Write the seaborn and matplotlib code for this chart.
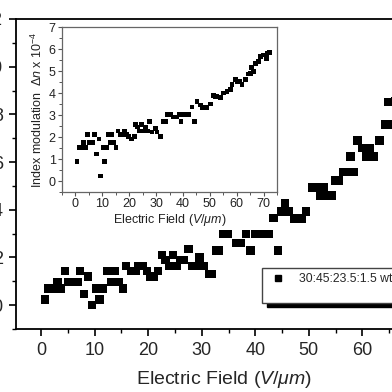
import matplotlib
matplotlib.use("Agg")
import matplotlib.pyplot as plt
import seaborn as sns
import pandas as pd
from matplotlib.lines import Line2D
from matplotlib.ticker import MultipleLocator

# ── Datos ─────────────────────────────────────────────────────────────────
campo = [0.75, 1.4, 2.3, 3.05, 3.7, 4.4, 5.1, 6.0, 6.8, 7.3, 8.0, 8.7, 9.5,
         10.2, 10.9, 11.6, 12.4, 13.0, 13.8, 14.45, 15.3, 15.9, 16.8, 17.6,
         18.2, 19.0, 19.75, 20.4, 21.1, 21.8, 22.6, 23.2, 23.9, 24.6, 25.4,
         26.0, 26.7, 27.5, 28.2, 28.9, 29.6, 30.3, 31.3, 31.9, 32.6, 33.2,
         34.0, 34.9, 36.4, 37.3, 38.3, 39.1, 40.0, 40.9, 41.8, 42.6, 43.4,
         44.2, 44.9, 45.6, 46.2, 47.2, 48.0, 48.6, 49.5, 50.6, 51.5, 52.1,
         52.8, 53.6, 54.2, 55.0, 55.6, 56.5, 57.4, 57.8, 58.4, 59.1, 59.9,
         60.7, 61.4, 62.1, 63.2, 64.3, 64.9, 65.4, 66.2]
modulacion = [0.24, 0.7, 0.7, 0.98, 0.7, 1.43, 0.98, 0.98, 0.98, 1.43, 0.46,
              1.2, 0.0, 0.7, 0.24, 0.7, 1.43, 0.98, 1.43, 0.98, 0.7, 1.64,
              1.43, 1.43, 1.64, 1.64, 1.43, 1.2, 1.2, 1.43, 2.1, 1.9, 1.64,
              2.1, 1.64, 1.9, 1.9, 2.35, 1.64, 1.64, 2.0, 1.64, 1.3, 1.3,
              2.29, 2.29, 2.98, 2.98, 2.62, 2.62, 2.98, 2.29, 2.98, 2.98,
              2.98, 2.98, 3.65, 2.29, 3.93, 4.27, 3.93, 3.63, 3.63, 3.63,
              3.93, 4.93, 4.93, 4.6, 4.93, 4.6, 4.6, 5.23, 5.23, 5.57, 5.57,
              6.24, 5.57, 6.9, 6.6, 6.24, 6.6, 6.24, 6.9, 7.58, 8.53, 7.58,
              8.55]

campo_inset = [0.6, 1.5, 2.5, 2.9, 3.7, 4.6, 5.3, 6.4, 7.2, 7.8, 8.7, 9.3,
               10.2, 10.9, 11.8, 12.4, 13.0, 13.6, 14.2, 15.1, 15.9, 16.7,
               17.5, 18.3, 19.0, 19.8, 20.8, 21.9, 22.3, 23.0, 23.8, 24.5,
               25.4, 26.0, 26.8, 27.6, 28.5, 29.7, 30.4, 31.6, 32.8, 33.5,
               34.1, 35.0, 35.6, 36.5, 37.2, 37.8, 38.5, 39.3, 39.9, 40.7,
               41.5, 42.3, 43.4, 44.2, 45.2, 46.5, 47.3, 48.0, 49.0, 50.2,
               51.4, 52.1, 52.7, 53.9, 55.1, 56.4, 57.6, 58.2, 59.5, 60.1,
               60.7, 61.3, 62.0, 63.2, 64.4, 65.1, 65.4, 66.3, 66.9, 68.1,
               68.8, 70.0, 71.0, 71.3, 72.2]
dn_inset = [0.88, 1.51, 1.51, 1.74, 1.51, 2.12, 1.74, 1.74, 2.12, 1.23, 1.91,
            0.23, 1.51, 0.88, 1.51, 2.12, 1.74, 2.12, 1.74, 1.51, 2.27, 2.12,
            2.12, 2.27, 2.12, 2.03, 1.91, 2.03, 2.58, 2.45, 2.27, 2.58, 2.27,
            2.42, 2.27, 2.71, 2.23, 2.38, 2.23, 2.03, 2.7, 2.7, 3.01, 3.01,
            3.01, 2.91, 2.91, 2.91, 3.01, 2.7, 3.01, 3.01, 3.01, 3.01, 3.36,
            2.7, 3.6, 3.45, 3.35, 3.35, 3.35, 3.5, 3.9, 3.83, 3.83, 3.8, 4.0,
            4.06, 4.17, 4.4, 4.6, 4.5, 4.5, 4.55, 4.4, 4.6, 4.86, 4.9, 5.17,
            4.97, 5.35, 5.42, 5.65, 5.73, 5.58, 5.8, 5.85]

etiqueta = "30:45:23.5:1.5 wt%"

# ── Estilo ────────────────────────────────────────────────────────────────
sns.set_style("ticks")
plt.rcParams["font.family"] = ["Liberation Sans", "DejaVu Sans"]
plt.rcParams["mathtext.fontset"] = "custom"
plt.rcParams["mathtext.rm"] = "Liberation Sans"
plt.rcParams["mathtext.it"] = "Liberation Sans:italic"

W = 392
fig = plt.figure(figsize=(3.92, 3.92), dpi=100)
fig.patch.set_facecolor("white")

# ── Gráfica principal ─────────────────────────────────────────────────────
ax = fig.add_axes([16 / W, 63 / W, 416 / W, 310 / W])
df = pd.DataFrame({"campo": campo, "mod": modulacion})
sns.scatterplot(data=df, x="campo", y="mod", marker="s", s=36,
                color="black", edgecolor="none", linewidth=0, ax=ax,
                legend=False)
ax.set(xlim=(-4.7, 73), ylim=(-1, 12))
ax.xaxis.set_major_locator(MultipleLocator(10))
ax.xaxis.set_minor_locator(MultipleLocator(5))
ax.yaxis.set_major_locator(MultipleLocator(2))
ax.yaxis.set_minor_locator(MultipleLocator(1))
ax.tick_params(which="major", direction="out", length=5, width=1.2,
               labelsize=13, pad=4.5, color="black")
ax.tick_params(which="minor", direction="out", length=3, width=1.0,
               color="black")
ax.set_xlabel(r"Electric Field ($\mathit{V/\mu m}$)", fontsize=14,
              labelpad=7)
ax.set_ylabel("")
for s in ax.spines.values():
    s.set_linewidth(1.3)
    s.set_color("black")

handles = [Line2D([], [], marker="s", color="black", linestyle="none",
                  markersize=3.8),
           Line2D([], [], linestyle="none")]
ax.legend(handles, [etiqueta, " "], loc="upper left",
          bbox_to_anchor=(262 / W, 1 - 268 / W),
          bbox_transform=fig.transFigure, borderaxespad=0,
          fontsize=8.8, frameon=True,
          fancybox=False, edgecolor="#444444", framealpha=1,
          handlelength=1.8, handletextpad=0.8, borderpad=0.4,
          labelspacing=0.1,
          shadow={"color": "black", "alpha": 1, "ox": 3.5, "oy": -3})

# ── Gráfica insertada ────────────────────────────────────────────────────
axi = fig.add_axes([62 / W, (W - 192) / W, 215 / W, 165 / W])
dfi = pd.DataFrame({"campo": campo_inset, "dn": dn_inset})
sns.scatterplot(data=dfi, x="campo", y="dn", marker="s", s=11,
                color="black", edgecolor="none", linewidth=0, ax=axi,
                legend=False)
axi.set(xlim=(-5, 75), ylim=(-0.5, 7))
axi.xaxis.set_major_locator(MultipleLocator(10))
axi.xaxis.set_minor_locator(MultipleLocator(5))
axi.yaxis.set_major_locator(MultipleLocator(1))
axi.yaxis.set_minor_locator(MultipleLocator(0.5))
axi.tick_params(which="major", direction="out", length=3, width=0.8,
                labelsize=9, pad=1.5, color="#555555",
                labelcolor="#222222")
axi.tick_params(which="minor", direction="out", length=2, width=0.7,
                color="#555555")
axi.set_xlabel(r"Electric Field ($\mathit{V/\mu m}$)", fontsize=9,
               labelpad=1, color="#222222")
axi.set_ylabel(r"Index modulation  $\mathit{\Delta n}$ x 10$^{-4}$",
               fontsize=9, labelpad=3, color="#222222")
for s in axi.spines.values():
    s.set_linewidth(0.9)
    s.set_color("#666666")

fig.savefig("out.png", dpi=100, facecolor="white")
